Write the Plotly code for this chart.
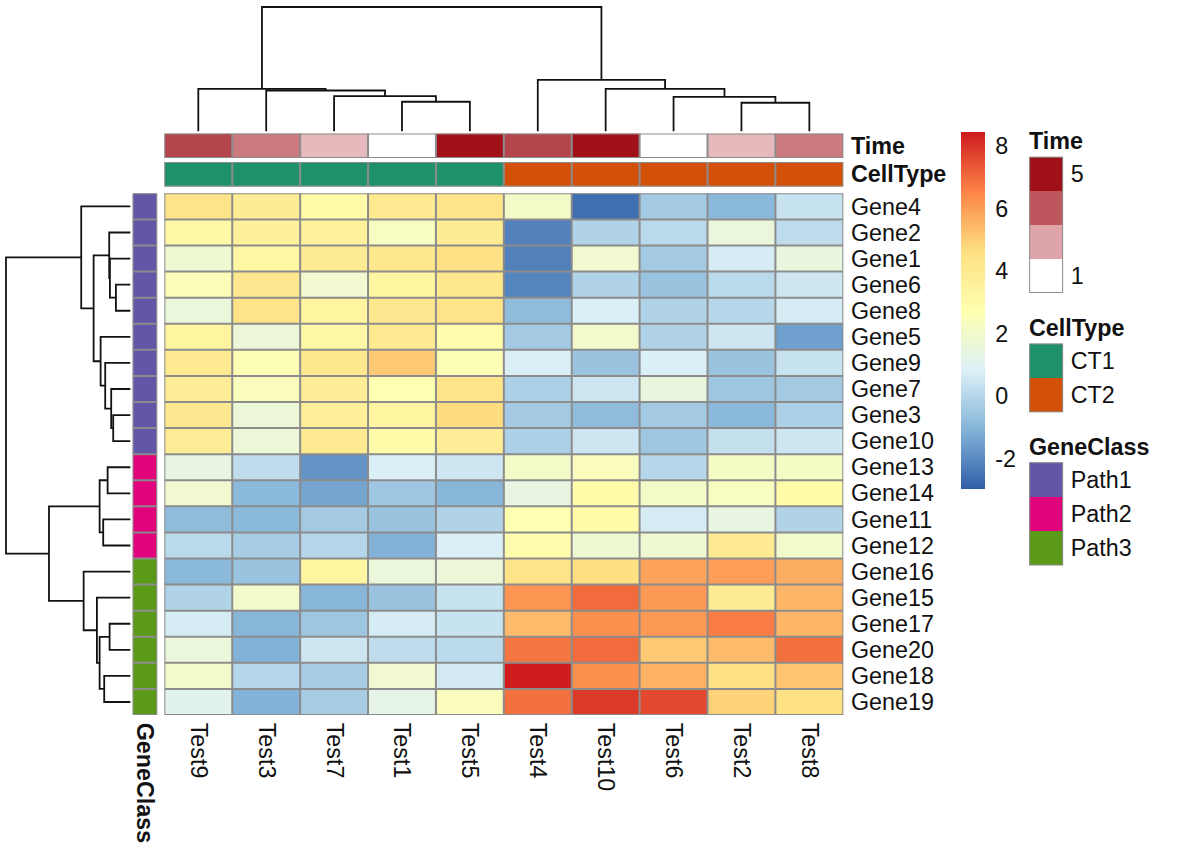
import plotly.graph_objects as go

W = 1200
H = 857
FONT = "Liberation Sans"
GRID = "#8C8C8C"

test_names = ["Test9", "Test3", "Test7", "Test1", "Test5", "Test4", "Test10", "Test6", "Test2", "Test8"]
gene_names = ["Gene4", "Gene2", "Gene1", "Gene6", "Gene8", "Gene5", "Gene9", "Gene7", "Gene3", "Gene10",
              "Gene13", "Gene14", "Gene11", "Gene12", "Gene16", "Gene15", "Gene17", "Gene20", "Gene18", "Gene19"]

expr = [
    [4.4, 3.9, 3.0, 4.0, 4.3, 2.1, -2.6, -0.4, -0.9, 0.4],
    [3.1, 3.6, 3.5, 2.3, 3.9, -2.2, -0.1, 0.1, 1.6, 0.2],
    [1.8, 3.2, 3.9, 4.2, 4.5, -2.2, 1.9, -0.4, 0.7, 1.5],
    [2.5, 4.1, 1.9, 3.3, 4.2, -2.1, -0.1, -0.6, 0.1, 0.5],
    [1.6, 4.4, 3.4, 4.1, 4.4, -0.8, 0.8, -0.1, 0.0, 0.7],
    [3.4, 1.7, 3.1, 4.0, 2.9, -0.4, 2.0, -0.1, 0.5, -1.5],
    [4.0, 2.6, 4.2, 5.1, 2.6, 0.8, -0.6, 0.8, -0.6, 0.4],
    [3.8, 2.4, 3.8, 2.7, 4.3, -0.2, 0.5, 1.5, -0.5, -0.4],
    [4.1, 1.7, 3.7, 3.4, 4.7, -0.4, -0.8, -0.4, -0.9, -0.2],
    [3.8, 1.7, 4.0, 3.0, 3.8, -0.2, 0.5, -0.5, 0.3, 0.5],
    [1.4, 0.2, -1.8, 0.8, 0.5, 2.1, 2.4, 0.0, 2.2, 2.2],
    [1.9, -0.9, -1.4, -0.5, -1.0, 1.4, 3.0, 2.1, 2.3, 3.0],
    [-0.8, -0.9, -0.4, -0.6, -0.1, 2.7, 3.0, 0.7, 1.4, -0.1],
    [0.1, -0.3, 0.0, -1.1, 0.8, 2.9, 1.8, 1.8, 4.0, 2.0],
    [-0.9, -0.6, 3.3, 1.6, 1.7, 4.4, 4.6, 5.9, 6.0, 5.7],
    [-0.1, 2.0, -1.0, -0.6, 0.4, 6.2, 7.0, 6.1, 3.9, 5.5],
    [0.7, -1.0, -0.5, 0.7, 0.4, 5.4, 6.3, 6.1, 6.7, 5.5],
    [1.6, -1.1, 0.5, 0.2, 0.1, 6.8, 7.0, 5.1, 5.4, 6.9],
    [2.0, 0.0, -0.3, 1.9, 0.6, 8.4, 6.3, 5.6, 4.5, 5.2],
    [1.1, -1.1, -0.3, 1.3, 2.4, 6.9, 7.9, 7.6, 4.9, 4.5],
]

# annotation tracks
time_vals = [4, 3, 2, 1, 5, 4, 5, 1, 2, 3]
cell_vals = [0, 0, 0, 0, 0, 1, 1, 1, 1, 1]
class_vals = [0] * 10 + [1] * 4 + [2] * 6
time_legend = [5, 3.67, 2.33, 1]
cell_labels = ["CT1", "CT2"]
class_labels = ["Path1", "Path2", "Path3"]
key_ticks = [-2, 0, 2, 4, 6, 8]
key_labels = ["-2", "0", "2", "4", "6", "8"]

# hclust style merges: negative = leaf (1-based position), positive = earlier merge
col_left = [-4, -3, -2, -1, -9, -8, -7, -6, 4]
col_right = [-5, 1, 2, 3, -10, 5, 6, 7, 8]
col_height = [29.7, 35.4, 41.0, 42.7, 28.7, 34.7, 42.7, 51.7, 124.7]

row_left = [-4, -3, -2, -9, -8, -7, -6, 3, -1, -11, -13, 10, -17, -19, 13, -16, -15, 12, 9]
row_right = [-5, 1, 2, -10, 4, 5, 6, 7, 8, -12, -14, 11, -18, -20, 14, 15, 16, 17, 18]
row_height = [14.7, 20.7, 21.4, 17.4, 19.4, 25.4, 30.0, 37.0, 49.4, 23.0, 27.4, 31.0, 21.0, 26.4, 31.0, 33.7, 47.0,
              81.7, 124.7]

expr_colors = ["#2F5EA8", "#84B4D8", "#DDF1F7", "#FFFFAF", "#FEDF82", "#FC8447", "#CE1A1E"]
time_colors = ["#FFFFFF", "#E6BABD", "#CC7A7F", "#B5454C", "#A01018"]
cell_colors = ["#1E9168", "#D25008"]
class_colors = ["#6257A7", "#E0037C", "#5A9A18"]


def dom_x(a, b):
    return [a / W, b / W]


def dom_y(top, bottom):
    return [1 - bottom / H, 1 - top / H]


def even_scale(colors):
    n = len(colors) - 1
    return [[i / n, c] for i, c in enumerate(colors)]


def dendro_segments(left, right, height):
    # returns leaf-position and height coordinates of the U shapes
    pos, hgt = [], []
    node_pos, node_h = {}, {}
    for i in range(len(left)):
        ends = []
        for m in (left[i], right[i]):
            if m < 0:
                ends.append((-m - 1, 0))
            else:
                ends.append((node_pos[m], node_h[m]))
        pos += [ends[0][0], ends[0][0], ends[1][0], ends[1][0], None]
        hgt += [ends[0][1], height[i], height[i], ends[1][1], None]
        node_pos[i + 1] = (ends[0][0] + ends[1][0]) / 2
        node_h[i + 1] = height[i]
    return pos, hgt


HEAT_X = (164.5, 844)
HEAT_Y = (192.8, 715.7)
col_span = [-0.5, len(test_names) - 0.5]
row_span = [len(gene_names) - 0.5, -0.5]
ticks_off = dict(showgrid=False, zeroline=False, showline=False, showticklabels=False, ticks="")
side_font = dict(family=FONT, size=23.3, color="#111111")
no_tick = dict(ticks="outside", ticklen=2, tickcolor="rgba(0,0,0,0)", showgrid=False, zeroline=False,
               tickmode="array", tickfont=side_font)

fig = go.Figure()

# main heatmap + colour key
fig.add_trace(go.Heatmap(
    z=expr, x=list(range(len(test_names))), y=list(range(len(gene_names))),
    zmin=-2.96, zmax=8.45, colorscale=even_scale(expr_colors),
    colorbar=dict(
        x=961.7 / W, xanchor="left", xpad=0, y=1 - 131 / H, yanchor="top", ypad=0,
        thickness=24, thicknessmode="pixels", len=357, lenmode="pixels",
        outlinewidth=0, borderwidth=0, tickmode="array", tickvals=key_ticks, ticktext=key_labels,
        ticks="outside", ticklen=6, tickcolor="rgba(0,0,0,0)", tickfont=side_font),
    xaxis="x", yaxis="y"))

# annotation tracks
fig.add_trace(go.Heatmap(z=[time_vals], x=list(range(10)), y=[0], zmin=1, zmax=5,
                         colorscale=even_scale(time_colors), showscale=False, xaxis="x2", yaxis="y2"))
fig.add_trace(go.Heatmap(z=[cell_vals], x=list(range(10)), y=[0], zmin=0, zmax=1,
                         colorscale=even_scale(cell_colors), showscale=False, xaxis="x3", yaxis="y3"))
fig.add_trace(go.Heatmap(z=[[v] for v in class_vals], x=[0], y=list(range(len(gene_names))), zmin=0, zmax=2,
                         colorscale=even_scale(class_colors), showscale=False, xaxis="x4", yaxis="y4"))

# dendrograms
col_pos, col_h = dendro_segments(col_left, col_right, col_height)
fig.add_trace(go.Scatter(x=col_pos, y=col_h, mode="lines", line=dict(color="#111111", width=1.8),
                         xaxis="x5", yaxis="y5", showlegend=False))
row_pos, row_h = dendro_segments(row_left, row_right, row_height)
fig.add_trace(go.Scatter(x=row_h, y=row_pos, mode="lines", line=dict(color="#111111", width=1.8),
                         xaxis="x6", yaxis="y6", showlegend=False))

# legends
fig.add_trace(go.Heatmap(z=[[v] for v in time_legend], x=[0], y=[0, 1, 2, 3], zmin=1, zmax=5,
                         colorscale=even_scale(time_colors), showscale=False, xaxis="x7", yaxis="y7"))
fig.add_trace(go.Heatmap(z=[[0], [1]], x=[0], y=[0, 1], zmin=0, zmax=1,
                         colorscale=even_scale(cell_colors), showscale=False, xaxis="x8", yaxis="y8"))
fig.add_trace(go.Heatmap(z=[[0], [1], [2]], x=[0], y=[0, 1, 2], zmin=0, zmax=2,
                         colorscale=even_scale(class_colors), showscale=False, xaxis="x9", yaxis="y9"))

fig.update_layout(
    width=W, height=H, margin=dict(l=0, r=0, t=0, b=0),
    paper_bgcolor="white", plot_bgcolor="white", showlegend=False,
    font=dict(family=FONT, color="#111111"),
    # heatmap
    xaxis=dict(domain=dom_x(*HEAT_X), range=col_span, tickvals=list(range(10)), ticktext=test_names,
               tickangle=90, anchor="y", **no_tick),
    yaxis=dict(domain=dom_y(*HEAT_Y), range=row_span, side="right", tickvals=list(range(20)),
               ticktext=gene_names, anchor="x", **no_tick),
    # Time track
    xaxis2=dict(domain=dom_x(*HEAT_X), range=col_span, anchor="y2", **ticks_off),
    yaxis2=dict(domain=dom_y(132.7, 157.3), range=[-0.5, 0.5], side="right", tickvals=[0],
                ticktext=["<b>Time</b>"], anchor="x2", **no_tick),
    # CellType track
    xaxis3=dict(domain=dom_x(*HEAT_X), range=col_span, anchor="y3", **ticks_off),
    yaxis3=dict(domain=dom_y(161.3, 186), range=[-0.5, 0.5], side="right", tickvals=[0],
                ticktext=["<b>CellType</b>"], anchor="x3", **no_tick),
    # GeneClass track
    xaxis4=dict(domain=dom_x(132.7, 157.3), range=[-0.5, 0.5], tickvals=[0],
                ticktext=["<b>GeneClass</b>"], tickangle=90, anchor="y4", **no_tick),
    yaxis4=dict(domain=dom_y(*HEAT_Y), range=row_span, anchor="x4", **ticks_off),
    # dendrograms
    xaxis5=dict(domain=dom_x(*HEAT_X), range=col_span, anchor="y5", **ticks_off),
    yaxis5=dict(domain=dom_y(0, 130.7), range=[0, 130.7], anchor="x5", **ticks_off),
    xaxis6=dict(domain=dom_x(0, 130.7), range=[130.7, 0], anchor="y6", **ticks_off),
    yaxis6=dict(domain=dom_y(*HEAT_Y), range=row_span, anchor="x6", **ticks_off),
    # legend blocks
    xaxis7=dict(domain=dom_x(1030, 1064), range=[-0.5, 0.5], anchor="y7", **ticks_off),
    yaxis7=dict(domain=dom_y(156, 292.7), range=[3.5, -0.5], side="right", tickvals=[0, 3],
                ticktext=["5", "1"], anchor="x7", **no_tick),
    xaxis8=dict(domain=dom_x(1030, 1064), range=[-0.5, 0.5], anchor="y8", **ticks_off),
    yaxis8=dict(domain=dom_y(343.3, 412.3), range=[1.5, -0.5], side="right", tickvals=[0, 1],
                ticktext=cell_labels, anchor="x8", **no_tick),
    xaxis9=dict(domain=dom_x(1030, 1064), range=[-0.5, 0.5], anchor="y9", **ticks_off),
    yaxis9=dict(domain=dom_y(462.3, 565.7), range=[2.5, -0.5], side="right", tickvals=[0, 1, 2],
                ticktext=class_labels, anchor="x9", **no_tick),
)


def grid_lines(xref, yref, nx, ny):
    # cell borders drawn on top of a heatmap, in its own data coordinates
    line = dict(color=GRID, width=2)
    for i in range(nx + 1):
        fig.add_shape(type="line", xref=xref, yref=yref, x0=i - 0.5, x1=i - 0.5, y0=-0.5, y1=ny - 0.5, line=line)
    for j in range(ny + 1):
        fig.add_shape(type="line", xref=xref, yref=yref, x0=-0.5, x1=nx - 0.5, y0=j - 0.5, y1=j - 0.5, line=line)


grid_lines("x", "y", 10, 20)
grid_lines("x2", "y2", 10, 1)
grid_lines("x3", "y3", 10, 1)
grid_lines("x4", "y4", 1, 20)

for xr, yr, n in [("x7", "y7", 4), ("x8", "y8", 2), ("x9", "y9", 3)]:
    fig.add_shape(type="rect", xref=xr, yref=yr, x0=-0.5, x1=0.5, y0=-0.5, y1=n - 0.5,
                  line=dict(color=GRID, width=2))

for title, y_px in [("Time", 140), ("CellType", 328), ("GeneClass", 447)]:
    fig.add_annotation(text="<b>%s</b>" % title, xref="paper", yref="paper", x=1028 / W, y=1 - y_px / H,
                       xanchor="left", yanchor="middle", showarrow=False, font=side_font)

fig.write_html("out.html", config=dict(displayModeBar=False), post_script="document.body.style.margin='0';")
